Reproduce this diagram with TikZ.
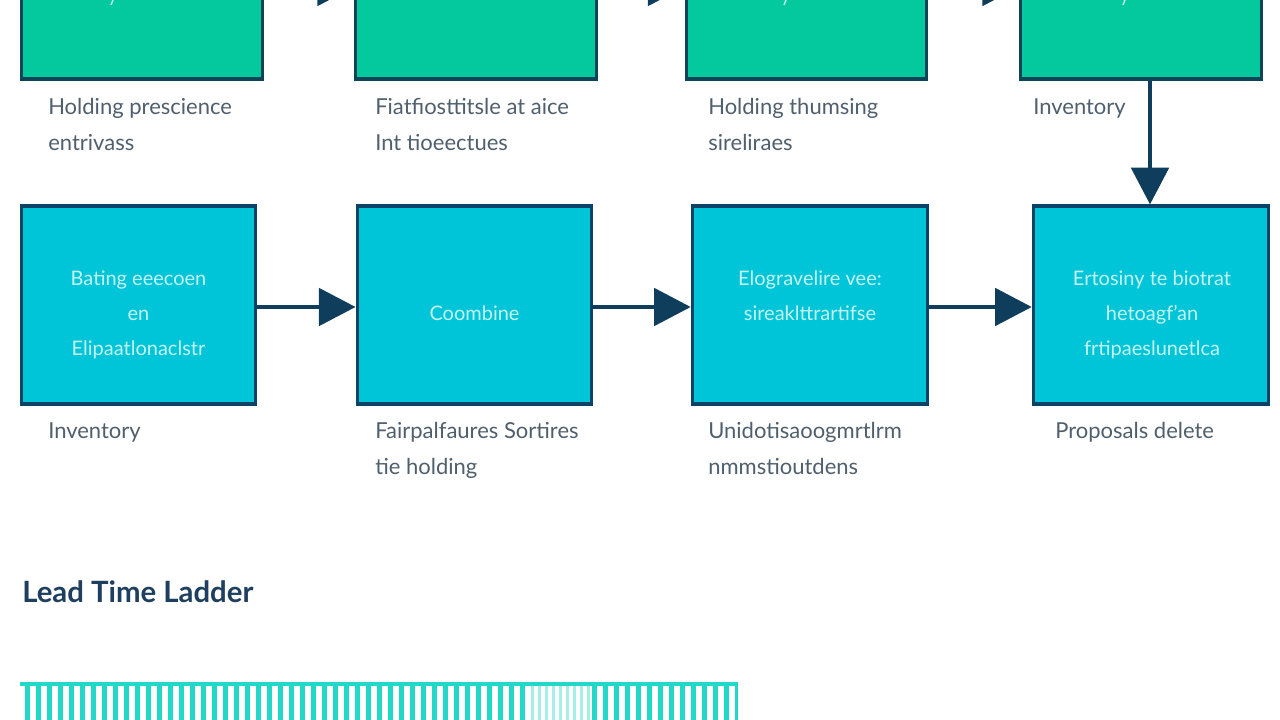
\documentclass[tikz,border=0pt]{standalone}
\usepackage{fontspec}
\setmainfont{Lato}
\usetikzlibrary{arrows.meta}
\definecolor{greenfill}{HTML}{04C99F}
\definecolor{greenedge}{HTML}{0E4458}
\definecolor{cyanfill}{HTML}{00C4D8}
\definecolor{cyanedge}{HTML}{0B4265}
\definecolor{arrowc}{HTML}{0F3D5C}
\definecolor{captionc}{HTML}{4F5F6D}
\definecolor{inboxc}{HTML}{C4F5F5}
\definecolor{titlec}{HTML}{1E3F5F}
\definecolor{combc}{HTML}{22D8C6}
\definecolor{combfade}{HTML}{A5EFE8}
\tikzset{
  x=0.75pt,y=-0.75pt,
  boxbase/.style={rectangle,line width=2.4pt,inner sep=0pt,align=center,font=\fontsize{15}{26.2}\selectfont,text=inboxc},
  greenbox/.style={boxbase,draw=greenedge,fill=greenfill,minimum width=180.5pt,minimum height=138pt},
  cyanbox/.style={boxbase,draw=cyanedge,fill=cyanfill,minimum height=148.5pt,minimum width=176pt},
  boxtext/.style={inner sep=0pt,align=center,text=inboxc,font=\fontsize{15}{26.2}\selectfont},
  flow/.style={draw=arrowc,line width=3pt,-{Triangle[length=27.5pt,width=28pt]}},
  caption/.style={anchor=west,inner sep=0pt,align=left,text=captionc,font=\fontsize{16.5}{27}\selectfont},
  tick/.style={draw=inboxc,line width=1pt},
}
\begin{document}
\begin{tikzpicture}
\useasboundingbox (0,0) rectangle (1280,720);
\clip (0,0) rectangle (1280,720);
% top row (cut off by the page edge)
\node[greenbox] (a1) at (142,-13) {};
\node[greenbox] (a2) at (476,-13) {};
\node[greenbox] (a3) at (806.5,-13) {};
\node[greenbox] (a4) at (1141,-13) {};
\draw[tick] (113,0) -- (111,5);
\draw[tick] (786,0) -- (784,5);
\draw[tick] (1125,0) -- (1123,5);
% second row
\node[cyanbox] (b1) at (138.5,305) {};
\node[cyanbox] (b2) at (474.5,305) {};
\node[cyanbox,minimum width=176.5pt] (b3) at (810,305) {};
\node[cyanbox,minimum width=176.5pt] (b4) at (1151,305) {};
\node[boxtext] (b1t) at (138.5,315) {Bating eeecoen\\en\\Elipaatlonaclstr};
\node[boxtext] (b2t) at (474.5,313) {Coombine};
\node[boxtext] (b3t) at (810,296) {Elogravelire vee:\\sireaklttrartifse};
\node[boxtext] (b4t) at (1152,315) {Ertosiny te biotrat\\hetoagf'an\\frtipaeslunetlca};
% arrows
\draw[flow] (a1.east) -- (a2.west);
\draw[flow] (a2.east) -- (a3.west);
\draw[flow] (a3.east) -- (a4.west);
\draw[flow] ([xshift=6.75pt]a4.south) -- ([xshift=-0.75pt]b4.north);
\draw[flow] ([yshift=-1.5pt]b1.east) -- ([yshift=-1.5pt]b2.west);
\draw[flow] ([yshift=-1.5pt]b2.east) -- ([yshift=-1.5pt]b3.west);
\draw[flow] ([yshift=-1.5pt]b3.east) -- ([yshift=-1.5pt]b4.west);
% captions
\node[caption] (c1) at (48,124) {Holding prescience\\entrivass};
\node[caption] (c2) at (375,124) {Fiatfiosttitsle at aice\\Int tioeectues};
\node[caption] (c3) at (708,124) {Holding thumsing\\sireliraes};
\node[caption] (c4) at (1033,109) {Inventory};
\node[caption] (d1) at (48,433) {Inventory};
\node[caption] (d2) at (375,450) {Fairpalfaures Sortires\\tie holding};
\node[caption] (d3) at (708,448) {Unidotisaoogmrtlrm\\nmmstioutdens};
\node[caption] (d4) at (1055,432) {Proposals delete};
% title
\node[anchor=west,inner sep=0pt,text=titlec,font=\bfseries\fontsize{22}{24}\selectfont] (title) at (22,592) {Lead Time Ladder};
% ladder strip
\fill[combc] (20,682) rectangle (738,686);
\foreach \i in {0,...,45} {\fill[combc] ({25+11*\i},686) rectangle ({30+11*\i},720);}
\foreach \i in {0,...,8} {\fill[combfade] ({531+7*\i},686) rectangle ({534+7*\i},720);}
\foreach \i in {0,...,12} {\fill[combc] ({592+11*\i},686) rectangle ({597+11*\i},720);}
\fill[combc] (735,686) rectangle (738,720);
\end{tikzpicture}
\end{document}
